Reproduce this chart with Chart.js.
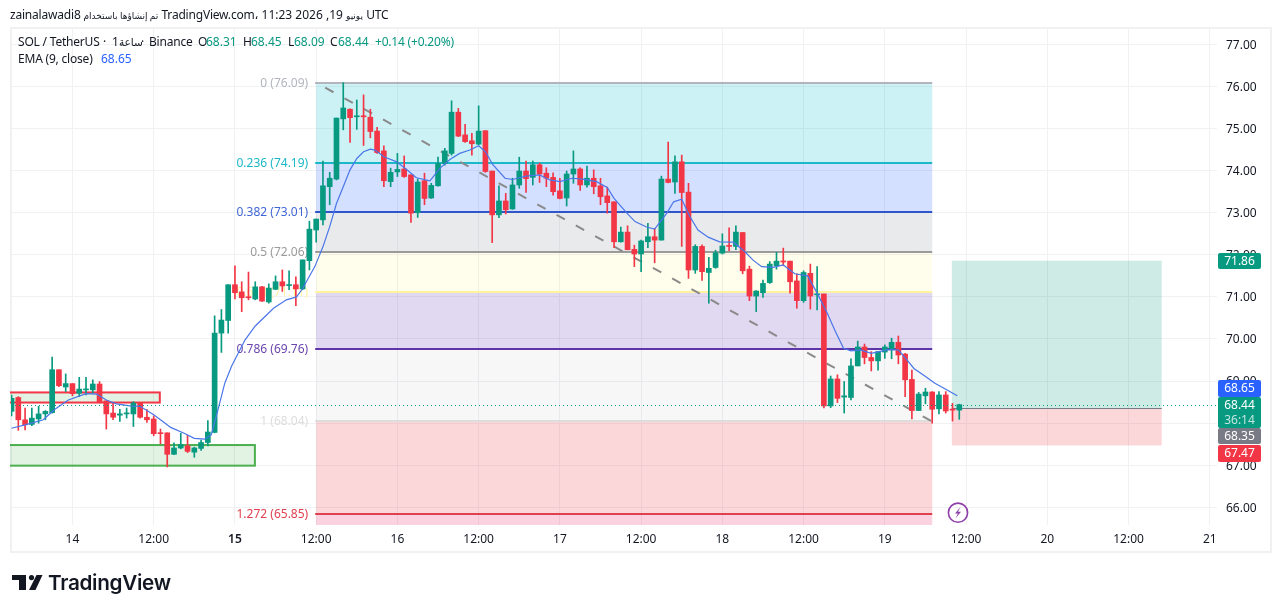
<!DOCTYPE html>
<html>
<head>
<meta charset="utf-8">
<title>SOL / TetherUS</title>
<script src="https://cdn.jsdelivr.net/npm/chart.js@4"></script>
<style>
    html, body { margin: 0; padding: 0; background: #fff; }
    body { width: 1281px; height: 613px; overflow: hidden; position: relative; font-family: "Noto Sans", "DejaVu Sans", sans-serif; color: #131722; }
    #frame { position: absolute; left: 10px; top: 27px; width: 1258px; height: 522px; border: 2px solid #eff1f3; }
    canvas { position: absolute; left: 0; top: 0; }
    .txt { position: absolute; font-size: 12px; line-height: 16px; white-space: pre; }
    .aperto { letter-spacing: -0.2px; }
    .ar { font-size: 9px; letter-spacing: 0; }
    .ar10 { font-size: 10.5px; letter-spacing: 0; }
    .up { color: #089981; }
    .ema { color: #2962ff; }
    #brand { position: absolute; left: 48px; top: 570px; font: 600 20.7px Inter, sans-serif; color: #131722; letter-spacing: -0.3px; }
    #logo { position: absolute; left: 12px; top: 575px; }
</style>
</head>
<body>
<div id="frame"></div>
<canvas id="grafico" width="1281" height="613"></canvas>
<div class="txt aperto" style="left:10px;top:7px">zainalawadi8 <span class="ar">تم إنشاؤها باستخدام</span> TradingView.com، <span class="ar">يونيو</span> 19, 2026 11:23 UTC</div>
<div class="txt aperto" style="left:18px;top:34px">SOL / TetherUS</div>
<div class="txt" style="left:103px;top:34px">·</div>
<div class="txt" style="left:112px;top:34px">1<span class="ar10">ساعة</span></div>
<div class="txt" style="left:141px;top:34px">·</div>
<div class="txt aperto" style="left:149px;top:34px">Binance</div>
<div class="txt" style="left:198px;top:34px">O</div>
<div class="txt up" style="left:206px;top:34px">68.31</div>
<div class="txt" style="left:243px;top:34px">H</div>
<div class="txt up" style="left:251px;top:34px">68.45</div>
<div class="txt" style="left:288px;top:34px">L</div>
<div class="txt up" style="left:294px;top:34px">68.09</div>
<div class="txt" style="left:330px;top:34px">C</div>
<div class="txt up" style="left:338px;top:34px">68.44</div>
<div class="txt up aperto" style="left:375px;top:34px">+0.14 (+0.20%)</div>
<div class="txt aperto" style="left:18px;top:51px">EMA (9, close)</div>
<div class="txt ema" style="left:101px;top:51px">68.65</div>
<svg id="logo" width="31" height="16" viewBox="0 0 31 16">
    <path d="M0 0H14V15H7V5H0Z" fill="#131722"/>
    <circle cx="19.5" cy="2.6" r="2.6" fill="#131722"/>
    <path d="M24.5 0H30.5L23.5 15H17Z" fill="#131722"/>
</svg>
<div id="brand">TradingView</div>
<script>
// hora 0 = 14 junho 00:00, uma vela por hora
const primeiraHora = -9;

const aberturas = [
    68.28, 68.61, 68.08, 67.97, 68.10, 68.22, 68.25, 69.27, 68.86, 68.94,
    68.71, 68.79, 68.79, 68.93, 68.53, 68.24, 68.19, 68.22, 68.22, 68.48,
    68.14, 68.10, 67.77, 67.77, 67.26, 67.41, 67.46, 67.31, 67.40, 67.54,
    67.78, 70.14, 70.44, 71.29, 71.12, 71.00, 70.95, 71.24, 70.88, 71.18,
    71.36, 71.27, 71.29, 71.19, 71.86, 72.59, 72.83, 73.62, 73.80, 75.23,
    75.46, 75.28, 75.30, 75.27, 74.94, 74.47, 73.74, 73.97, 74.04, 73.90,
    73.00, 73.76, 73.35, 73.64, 74.17, 74.41, 75.39, 74.85, 74.71, 74.63,
    74.95, 73.99, 72.95, 73.28, 73.09, 73.66, 73.99, 73.84, 74.14, 73.94,
    73.84, 73.52, 73.35, 73.92, 74.04, 73.66, 73.82, 73.64, 73.40, 73.26,
    72.31, 72.54, 72.13, 72.02, 72.31, 72.43, 72.35, 73.80, 73.73, 74.21,
    73.49, 71.64, 72.20, 71.58, 71.70, 72.04, 72.22, 72.20, 72.53, 71.66,
    71.02, 71.10, 71.34, 71.74, 71.85, 71.85, 71.38, 70.91, 71.56, 71.05,
    71.07, 68.41, 69.05, 68.62, 68.61, 69.36, 69.81, 69.56, 69.48, 69.69,
    69.77, 69.92, 69.64, 69.04, 68.30, 68.65, 68.74, 68.34, 68.67, 68.33, 68.31
];
const maximas = [
    68.67, 68.63, 68.36, 68.36, 68.40, 68.30, 69.57, 69.27, 69.17, 68.94,
    69.09, 69.09, 69.03, 68.99, 68.53, 68.48, 68.33, 68.36, 68.51, 68.48,
    68.32, 68.17, 67.86, 67.77, 67.53, 67.76, 67.71, 67.43, 67.60, 68.06,
    70.55, 70.70, 71.29, 71.74, 71.36, 71.59, 71.36, 71.25, 71.31, 71.50,
    71.64, 71.62, 71.48, 71.88, 72.80, 72.85, 74.23, 73.96, 75.25, 76.09,
    75.47, 75.68, 75.80, 75.46, 75.03, 74.59, 74.06, 74.41, 74.35, 73.90,
    73.80, 73.94, 73.70, 74.32, 74.53, 75.66, 75.48, 75.10, 74.89, 75.54,
    74.95, 73.99, 73.64, 73.46, 73.82, 74.32, 74.23, 74.23, 74.18, 74.07,
    73.95, 73.82, 73.99, 74.47, 74.07, 74.11, 74.02, 73.82, 73.61, 73.26,
    72.66, 72.69, 72.23, 72.35, 72.75, 72.63, 73.87, 74.68, 74.35, 74.37,
    73.70, 72.24, 72.24, 71.94, 72.11, 72.50, 72.64, 72.69, 72.53, 71.73,
    71.15, 71.40, 71.84, 72.06, 72.16, 71.85, 71.55, 71.62, 71.78, 71.72,
    71.07, 69.12, 69.15, 68.99, 69.53, 69.95, 69.88, 69.70, 69.70, 69.86,
    70.02, 70.07, 69.66, 69.26, 68.73, 68.83, 68.75, 68.75, 68.75, 68.47, 68.45
];
const minimas = [
    68.17, 67.83, 67.84, 67.94, 68.00, 68.08, 68.24, 68.87, 68.75, 68.65,
    68.63, 68.67, 68.71, 68.48, 67.86, 68.08, 68.04, 68.12, 67.92, 68.12,
    68.02, 67.70, 67.51, 66.96, 67.25, 67.39, 67.30, 67.19, 67.35, 67.46,
    67.77, 69.68, 70.14, 70.95, 70.65, 70.93, 70.93, 70.89, 70.85, 71.17,
    71.13, 71.17, 70.79, 71.17, 71.64, 72.30, 72.71, 73.19, 73.78, 74.97,
    74.67, 74.98, 74.60, 74.78, 74.41, 73.62, 73.62, 73.86, 73.84, 72.77,
    72.89, 73.19, 73.34, 73.63, 74.13, 74.37, 74.81, 74.67, 74.37, 74.61,
    73.96, 72.29, 72.88, 72.97, 73.08, 73.58, 73.48, 73.66, 73.72, 73.62,
    73.42, 73.33, 73.16, 73.70, 73.53, 73.61, 73.45, 73.19, 72.99, 72.17,
    72.30, 72.12, 71.72, 71.60, 72.17, 71.81, 72.35, 73.71, 73.46, 72.20,
    71.44, 71.56, 71.39, 70.85, 71.68, 72.02, 72.10, 72.12, 71.55, 70.91,
    70.65, 70.99, 71.32, 71.66, 71.74, 71.09, 70.73, 70.87, 70.71, 70.69,
    68.36, 68.37, 68.49, 68.24, 68.55, 69.36, 69.41, 69.24, 69.26, 69.54,
    69.53, 69.41, 68.63, 68.10, 68.30, 68.46, 68.00, 68.22, 68.24, 68.05, 68.09
];
const fechamentos = [
    68.59, 68.08, 67.96, 68.12, 68.22, 68.28, 69.27, 68.89, 68.94, 68.70,
    68.81, 68.81, 68.93, 68.50, 68.22, 68.14, 68.22, 68.24, 68.48, 68.14,
    68.08, 67.75, 67.75, 67.26, 67.41, 67.49, 67.33, 67.41, 67.54, 67.79,
    70.14, 70.45, 71.29, 71.10, 70.98, 70.98, 71.24, 70.90, 71.21, 71.36,
    71.26, 71.29, 71.19, 71.88, 72.61, 72.85, 73.64, 73.82, 75.25, 75.49,
    75.26, 75.30, 75.28, 74.93, 74.43, 73.76, 73.96, 74.03, 73.86, 72.99,
    73.73, 73.34, 73.65, 74.17, 74.47, 75.39, 74.82, 74.69, 74.64, 74.94,
    73.98, 72.95, 73.28, 73.07, 73.66, 73.99, 73.81, 74.14, 73.92, 73.82,
    73.50, 73.34, 73.92, 74.04, 73.66, 73.82, 73.62, 73.38, 73.24, 72.31,
    72.54, 72.12, 72.02, 72.33, 72.43, 72.35, 73.80, 73.72, 74.21, 73.48,
    71.64, 72.20, 71.60, 71.68, 72.05, 72.21, 72.20, 72.54, 71.62, 71.02,
    71.14, 71.32, 71.78, 71.85, 71.83, 71.36, 70.91, 71.58, 71.02, 71.07,
    68.41, 69.05, 68.59, 68.65, 69.36, 69.81, 69.56, 69.48, 69.70, 69.81,
    69.92, 69.62, 69.03, 68.30, 68.69, 68.74, 68.33, 68.67, 68.29, 68.31, 68.44
];

const emaHoras = [
    -9, -7, -4.3, -2.6, -0.6, 2, 3.6, 5, 6.5, 8.5, 10, 12, 13.5, 14.5, 16.5, 18, 19.5, 20.5, 21.5, 22.5, 23.5, 25.5,
    27, 29.7, 31.6, 33.1, 34, 35.8, 37, 38, 39, 40, 41, 42, 43, 44, 44.7, 46, 47.9, 49.4, 50.8, 52.8, 54.3, 55.8,
    57.2, 58.7, 60, 61, 62.1, 63.9, 65, 67, 69, 70.5, 72, 73.8, 75.4, 77.4, 79, 80, 81.9, 83.1, 84.8, 86, 87.8, 88.8, 90,
    91.2, 92.4, 93.9, 95.6, 97.6, 99.3, 100.5, 101.8, 103.5, 105, 106.7, 108.6, 110, 111.5, 112.7, 113.9, 115, 116.4,
    118, 120.3, 122, 123.3, 124.3, 125.8, 127.4, 129.2, 130.7
];
const emaValores = [
    67.88, 67.96, 68.08, 68.33, 68.55, 68.70, 68.69, 68.55, 68.46, 68.41, 68.40, 68.20, 68.02, 67.90, 67.76, 67.64, 67.62, 67.72, 68.32, 68.95, 69.35, 69.98,
    70.31, 70.73, 70.93, 71.00, 71.20, 71.72, 72.19, 72.67, 73.22, 73.62, 74.02, 74.29, 74.45, 74.51, 74.49, 74.33, 74.21, 74.02, 73.83, 73.76, 74.06, 74.27,
    74.41, 74.49, 74.59, 74.45, 74.14, 73.82, 73.79, 73.87, 73.90, 73.78, 73.74, 73.82, 73.80, 73.74, 73.60, 73.34, 72.99, 72.79, 72.66, 72.61, 72.99, 73.26, 73.32,
    72.91, 72.59, 72.42, 72.31, 72.30, 72.08, 71.88, 71.72, 71.70, 71.76, 71.55, 71.50, 71.09, 70.61, 70.18, 69.78, 69.72, 69.74,
    69.66, 69.74, 69.74, 69.50, 69.30, 69.13, 68.95, 68.79, 68.65
];

const horasTicks = [0, 12, 24, 36, 48, 60, 72, 84, 96, 108, 120, 132, 144, 156, 168];
const rotulosTempo = ['14', '12:00', '15', '12:00', '16', '12:00', '17', '12:00', '18', '12:00', '19', '12:00', '20', '12:00', '21'];
const precosTicks = [66, 67, 68, 69, 70, 71, 72, 73, 74, 75, 76, 77];

// fibonacci
const fibRazoes = ['0', '0.236', '0.382', '0.5', '0.618', '0.786', '1', '1.272'];
const fibPrecos = [76.09, 74.19, 73.01, 72.06, 71.11, 69.76, 68.04, 65.85];
const fibCoresLinha = ['#b2b5be', '#1cb8c8', '#3055c8', '#9b9b9b', '#fff3a0', '#5e35a8', '#dddddd', '#e0404f'];
const fibCoresTexto = ['#b2b5be', '#1cb8c8', '#3f66d4', '#9b9b9b', '#fff3a0', '#6a46ad', '#dddddd', '#e0404f'];
const fibCoresFaixa = [
    'rgba(0,188,212,.2)', 'rgba(41,98,255,.2)', 'rgba(120,123,134,.16)', 'rgba(255,235,59,.1)',
    'rgba(103,58,183,.2)', 'rgba(120,123,134,.06)', 'rgba(242,54,69,.2)', 'rgba(233,30,99,.2)'
];
const fibHoraInicio = 36;
const fibHoraFim = 127;

// caixas de suporte e resistencia
const caixaInicio = [-30, -30];
const caixaFim = [12.9, 26.95];
const caixaTopo = [68.73, 67.48];
const caixaBase = [68.49, 66.99];
const caixaBorda = ['#f23645', '#4caf50'];

// posicao comprada
const posicaoHoras = [129.9, 160.9];
const posicaoAlvo = 71.86;
const posicaoEntrada = 68.35;
const posicaoStop = 67.47;

const ultimoPreco = 68.44;

const ctx = document.getElementById('grafico');
const verde = '#089981';
const vermelho = '#f23645';
const fonteBase = '"Noto Sans", "DejaVu Sans", sans-serif';

const horas = aberturas.map(function (_, i) { return primeiraHora + i; });
const cores = aberturas.map(function (a, i) { return fechamentos[i] >= a ? verde : vermelho; });

function desenhaRetangulo(c, esc, h1, h2, p1, p2, cor) {
    const x1 = esc.x.getPixelForValue(h1);
    const x2 = esc.x.getPixelForValue(h2);
    const y1 = esc.y.getPixelForValue(p1);
    const y2 = esc.y.getPixelForValue(p2);
    c.fillStyle = cor;
    c.fillRect(x1, y1, x2 - x1, y2 - y1);
}

const fundoPlugin = {
    id: 'fundoPlugin',
    beforeDatasetsDraw(chart) {
        const c = chart.ctx;
        const esc = chart.scales;
        const area = chart.chartArea;
        c.save();
        c.beginPath();
        c.rect(area.left - 1, area.top, area.right - area.left + 1, area.bottom - area.top);
        c.clip();

        // faixas
        fibPrecos.forEach(function (p, i) {
            const proximo = i < fibPrecos.length - 1 ? fibPrecos[i + 1] : esc.y.min;
            desenhaRetangulo(c, esc, fibHoraInicio, fibHoraFim, p, proximo, fibCoresFaixa[i]);
        });

        // linhas e rotulos
        const x1 = esc.x.getPixelForValue(fibHoraInicio);
        const x2 = esc.x.getPixelForValue(fibHoraFim);
        c.font = '12px ' + fonteBase;
        c.textAlign = 'right';
        c.textBaseline = 'middle';
        fibPrecos.forEach(function (p, i) {
            const y = Math.round(esc.y.getPixelForValue(p));
            c.strokeStyle = fibCoresLinha[i];
            c.lineWidth = 2;
            c.beginPath();
            c.moveTo(x1 - 1, y);
            c.lineTo(x2, y);
            c.stroke();
            c.fillStyle = fibCoresTexto[i];
            c.fillText(fibRazoes[i] + ' (' + p.toFixed(2) + ')', x1 - 8, y + 1);
        });

        // caixas
        caixaInicio.forEach(function (h, i) {
            desenhaRetangulo(c, esc, h, caixaFim[i], caixaTopo[i], caixaBase[i], 'rgba(76,175,80,.16)');
            c.strokeStyle = caixaBorda[i];
            c.lineWidth = 2;
            const bx = esc.x.getPixelForValue(h);
            const by = esc.y.getPixelForValue(caixaTopo[i]);
            c.strokeRect(bx, by, esc.x.getPixelForValue(caixaFim[i]) - bx, esc.y.getPixelForValue(caixaBase[i]) - by);
        });

        // posicao
        desenhaRetangulo(c, esc, posicaoHoras[0], posicaoHoras[1], posicaoAlvo, posicaoEntrada, 'rgba(8,153,129,.2)');
        desenhaRetangulo(c, esc, posicaoHoras[0], posicaoHoras[1], posicaoEntrada, posicaoStop, 'rgba(242,54,69,.2)');
        c.strokeStyle = '#787b86';
        c.lineWidth = 1;
        const ye = Math.round(esc.y.getPixelForValue(posicaoEntrada)) + 0.5;
        c.beginPath();
        c.moveTo(esc.x.getPixelForValue(posicaoHoras[0]), ye);
        c.lineTo(esc.x.getPixelForValue(posicaoHoras[1]), ye);
        c.stroke();
        c.restore();
    }
};

// etiquetas da escala de precos
const etiquetas = [
    { y: 253, h: 16, cor: verde, texto: ['71.86'] },
    { y: 380, h: 17, cor: '#2962ff', texto: ['68.65'] },
    { y: 397, h: 31, cor: verde, texto: ['68.44', '36:14'] },
    { y: 428, h: 16, cor: '#787b86', texto: ['68.35'] },
    { y: 445, h: 17, cor: vermelho, texto: ['67.47'] }
];

const frentePlugin = {
    id: 'frentePlugin',
    afterDatasetsDraw(chart) {
        const c = chart.ctx;
        const area = chart.chartArea;
        const y = Math.round(chart.scales.y.getPixelForValue(ultimoPreco)) + 0.5;
        c.save();
        c.strokeStyle = verde;
        c.lineWidth = 1;
        c.setLineDash([1, 3]);
        c.beginPath();
        c.moveTo(area.left, y);
        c.lineTo(area.right, y);
        c.stroke();
        c.restore();
    },
    afterDraw(chart) {
        const c = chart.ctx;
        c.save();
        c.font = '12px ' + fonteBase;
        c.textAlign = 'center';
        c.textBaseline = 'middle';
        etiquetas.forEach(function (e) {
            c.fillStyle = e.cor;
            c.beginPath();
            c.roundRect(1218, e.y, 43, e.h, 2);
            c.fill();
            e.texto.forEach(function (t, i) {
                c.fillStyle = i === 0 ? '#ffffff' : 'rgba(255,255,255,.75)';
                c.fillText(t, 1239.5, e.y + 9 + i * 15);
            });
        });

        // icone do raio
        c.strokeStyle = '#8e3fa8';
        c.lineWidth = 1.6;
        c.beginPath();
        c.arc(958, 512.7, 9.6, 0, Math.PI * 2);
        c.stroke();
        c.fillStyle = '#8e3fa8';
        c.beginPath();
        c.moveTo(960.5, 507);
        c.lineTo(955, 513.5);
        c.lineTo(958, 513.5);
        c.lineTo(955.5, 518.5);
        c.lineTo(961, 511.8);
        c.lineTo(958, 511.8);
        c.closePath();
        c.fill();
        c.restore();
    }
};

new Chart(ctx, {
    type: 'bar',
    data: {
        datasets: [
            {
                type: 'line',
                label: 'EMA',
                data: emaHoras.map(function (h, i) { return { x: h, y: emaValores[i] }; }),
                borderColor: '#4a76e8',
                borderWidth: 1.2,
                pointRadius: 0,
                tension: 0,
                order: 0
            },
            {
                label: 'corpo',
                data: horas.map(function (h, i) { return { x: h, y: [aberturas[i], fechamentos[i]] }; }),
                backgroundColor: cores,
                barThickness: 5,
                minBarLength: 1,
                grouped: false,
                order: 1
            },
            {
                label: 'pavio',
                data: horas.map(function (h, i) { return { x: h, y: [minimas[i], maximas[i]] }; }),
                backgroundColor: cores,
                barThickness: 1,
                grouped: false,
                order: 2
            },
            {
                type: 'line',
                label: 'tendencia',
                data: [{ x: fibHoraInicio, y: fibPrecos[0] }, { x: fibHoraFim, y: fibPrecos[6] }],
                borderColor: '#8a8a8a',
                borderWidth: 2,
                borderDash: [9.5, 12.5],
                borderDashOffset: 11.7,
                pointRadius: 0,
                order: 3
            }
        ]
    },
    options: {
        responsive: false,
        maintainAspectRatio: false,
        animation: false,
        layout: { padding: { left: 11, top: 28, right: 0, bottom: 0 } },
        plugins: {
            legend: { display: false },
            title: { display: false },
            tooltip: { enabled: false }
        },
        scales: {
            x: {
                type: 'linear',
                offset: false,
                min: -9.08,
                max: 169.07,
                grid: { color: '#f0f1f3', offset: false, drawTicks: false },
                border: { display: false },
                afterBuildTicks: function (escala) {
                    escala.ticks = horasTicks.map(function (v) { return { value: v }; });
                },
                afterFit: function (escala) { escala.height = 88; },
                ticks: {
                    autoSkip: false,
                    maxRotation: 0,
                    padding: 7,
                    color: '#131722',
                    font: function (c) {
                        return { family: fonteBase, size: 12, weight: horasTicks[c.index] === 24 ? '600' : '400' };
                    },
                    callback: function (valor, i) { return rotulosTempo[i]; }
                }
            },
            y: {
                position: 'right',
                min: 65.58,
                max: 77.39,
                grid: { color: '#f0f1f3', drawTicks: false },
                border: { display: false },
                afterBuildTicks: function (escala) {
                    escala.ticks = precosTicks.map(function (v) { return { value: v }; });
                },
                afterFit: function (escala) { escala.width = 64; },
                ticks: {
                    padding: 9,
                    labelOffset: 1,
                    color: '#131722',
                    font: { family: fonteBase, size: 12 },
                    callback: function (valor) { return valor.toFixed(2); }
                }
            }
        }
    },
    plugins: [fundoPlugin, frentePlugin]
});
</script>
</body>
</html>
